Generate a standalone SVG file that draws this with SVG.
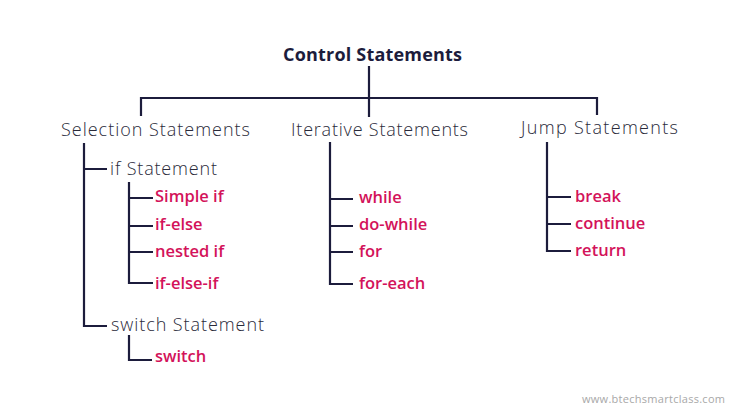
<svg xmlns="http://www.w3.org/2000/svg" width="739" height="415" viewBox="0 0 739 415">
<style>
.t{font-family:"Open Sans",Lato,sans-serif;fill:#1c1c3c;font-weight:700;font-size:18px}
.h{font-family:"Open Sans",Lato,sans-serif;fill:#2a2a3a;font-weight:300;font-size:18px}
.p{font-family:"Open Sans",Lato,sans-serif;fill:#d3135a;font-weight:600;font-size:16.5px}
.w{font-family:"Open Sans",Lato,sans-serif;fill:#a8a8a8;font-weight:400;font-size:11px}
.c path{fill:none;stroke:#1c1c3c;stroke-width:2.2}
</style>
<rect width="739" height="415" fill="#ffffff"/>
<g id="connectors" class="c">
<path d="M369,66V117M141,98H597M141,97V116M597,97V115"/>
<path d="M84,143V326H107M84,169H107"/>
<path d="M129,182V283H153M129,198H153M129,226H153M129,252H153"/>
<path d="M129,335V360H152"/>
<path d="M330,142V284H353M330,199H353M330,226H353M330,252H353"/>
<path d="M547,142V251H571M547,197H571M547,224H571"/>
</g>
<g id="root"><text class="t" x="372.5" y="61" text-anchor="middle" textLength="179">Control Statements</text></g>
<g id="selection"><text class="h" x="61" y="136" textLength="189">Selection Statements</text></g>
<g id="iterative"><text class="h" x="291" y="136" textLength="177">Iterative Statements</text></g>
<g id="jump"><text class="h" x="521" y="134" textLength="157">Jump Statements</text></g>
<g id="if-statement"><text class="h" x="110" y="175" textLength="107">if Statement</text></g>
<g id="switch-statement"><text class="h" x="111" y="331" textLength="153">switch Statement</text></g>
<g id="simple-if"><text class="p" x="155" y="202">Simple if</text></g>
<g id="if-else"><text class="p" x="155" y="230">if-else</text></g>
<g id="nested-if"><text class="p" x="155" y="257">nested if</text></g>
<g id="if-else-if"><text class="p" x="155" y="289">if-else-if</text></g>
<g id="switch"><text class="p" x="155" y="362">switch</text></g>
<g id="while"><text class="p" x="359" y="203">while</text></g>
<g id="do-while"><text class="p" x="359" y="230">do-while</text></g>
<g id="for"><text class="p" x="359" y="257">for</text></g>
<g id="for-each"><text class="p" x="359" y="289">for-each</text></g>
<g id="break"><text class="p" x="575" y="202">break</text></g>
<g id="continue"><text class="p" x="575" y="229">continue</text></g>
<g id="return"><text class="p" x="575" y="256">return</text></g>
<text class="w" x="582" y="403" textLength="143">www.btechsmartclass.com</text>
</svg>
